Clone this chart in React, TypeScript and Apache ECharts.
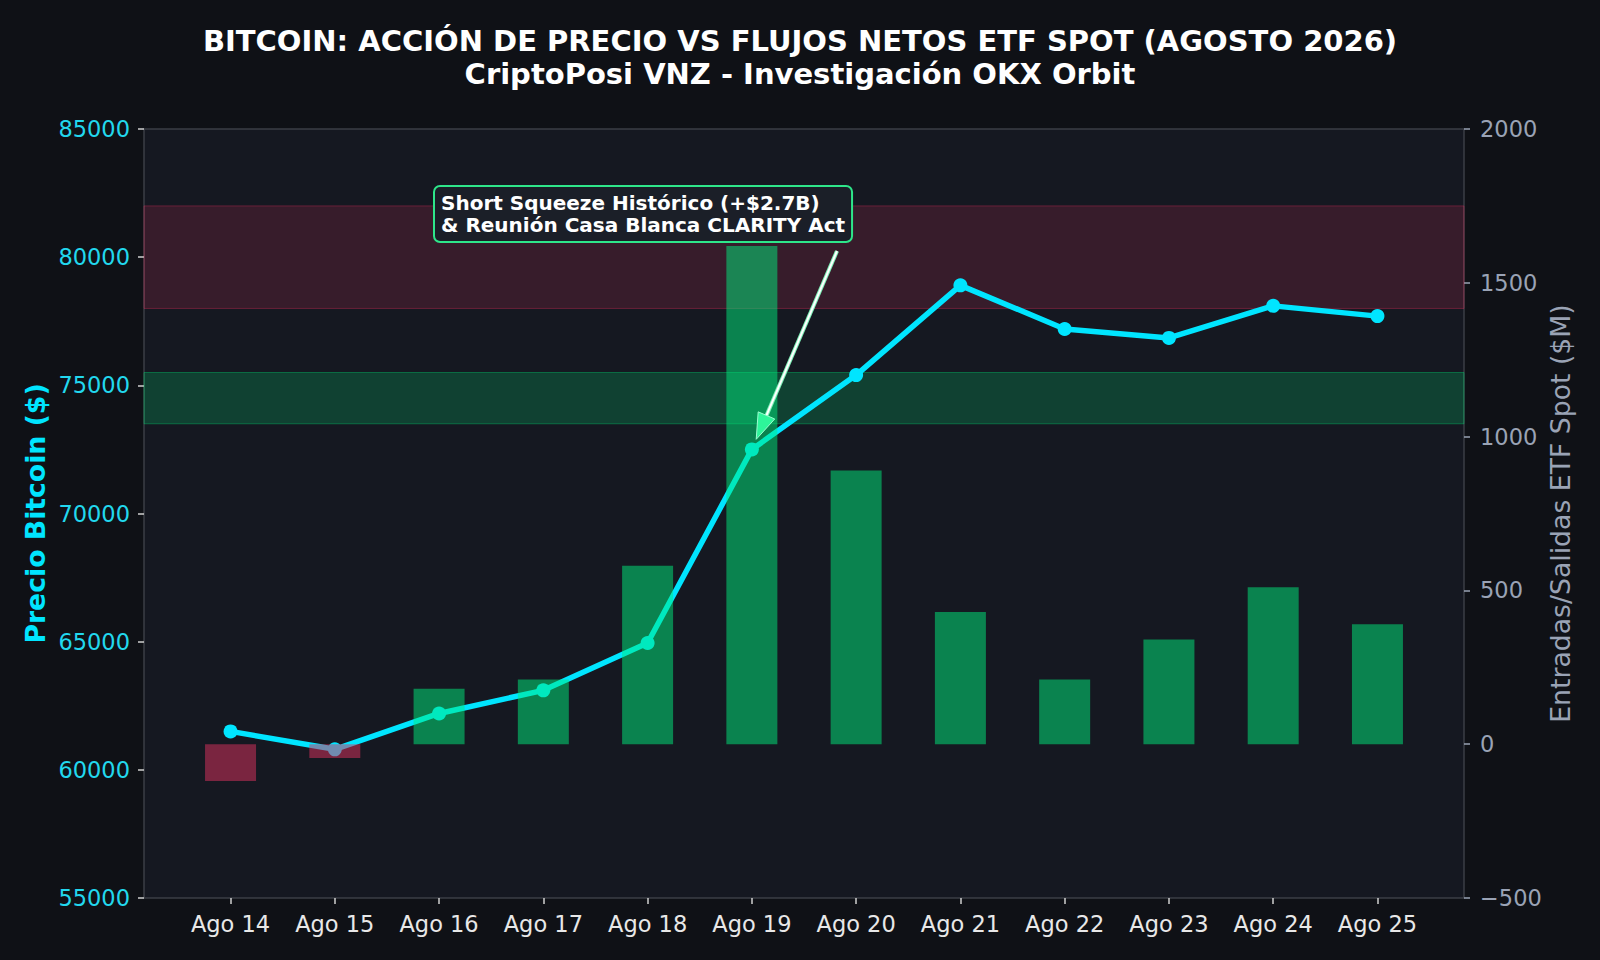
import React, { useEffect, useRef } from "react";
import * as echarts from "echarts";

const categories = ["Ago 14", "Ago 15", "Ago 16", "Ago 17", "Ago 18", "Ago 19", "Ago 20", "Ago 21", "Ago 22", "Ago 23", "Ago 24", "Ago 25"];
const priceValues = [61500, 60800, 62200, 63100, 64950, 72500, 75400, 78900, 77200, 76850, 78100, 77700];
const flowValues = [-120, -45, 180, 210, 580, 1620, 890, 430, 210, 340, 510, 390];
const resistanceBand = [78000, 82000];
const supportBand = [73500, 75500];
const priceTicks = [55000, 60000, 65000, 70000, 75000, 80000, 85000];
const flowTicks = [-500, 0, 500, 1000, 1500, 2000];
const annotationIndex = 5;
const titleText = "BITCOIN: ACCIÓN DE PRECIO VS FLUJOS NETOS ETF SPOT (AGOSTO 2026)\nCriptoPosi VNZ - Investigación OKX Orbit";
const annotationText = "Short Squeeze Histórico (+$2.7B)\n& Reunión Casa Blanca CLARITY Act";
const leftName = "Precio Bitcoin ($)";
const rightName = "Entradas/Salidas ETF Spot ($M)";

const FONT = "DejaVu Sans";

export default function App() {
  const ref = useRef<HTMLDivElement>(null);
  useEffect(() => {
    document.body.style.margin = "0";
    document.body.style.background = "#0f1116";
    const chart = echarts.init(ref.current!, null, { renderer: "svg" });
    const idx = categories.map((_, i) => i);
    const option: any = {
      animation: false,
      backgroundColor: "#0f1116",
      textStyle: { fontFamily: FONT },
      title: {
        text: titleText,
        left: "center",
        top: 19,
        textStyle: { color: "#ffffff", fontSize: 29, fontWeight: "bold", fontFamily: FONT, lineHeight: 33 },
      },
      grid: {
        left: 144,
        right: 136,
        top: 129,
        bottom: 62,
        show: true,
        backgroundColor: "#151821",
        borderColor: "#3b3e46",
        borderWidth: 1.5,
      },
      xAxis: {
        type: "value",
        min: -0.83,
        max: 11.83,
        splitLine: { show: false },
        axisLine: { show: false, onZero: false },
        axisTick: { show: true, customValues: idx, length: 6, lineStyle: { color: "#d0d0d0", width: 1.5 } },
        axisLabel: {
          customValues: idx,
          formatter: (v: number) => categories[Math.round(v)] ?? "",
          color: "#e8e8e8",
          fontSize: 22.5,
          fontFamily: FONT,
          margin: 14,
        },
      },
      yAxis: [
        {
          type: "value",
          min: priceTicks[0],
          max: priceTicks[priceTicks.length - 1],
          interval: 5000,
          name: leftName,
          nameLocation: "middle",
          nameGap: 95,
          nameMoveOverlap: false,
          nameTextStyle: { color: "#00e5ff", fontSize: 26.7, fontWeight: "bold", fontFamily: FONT },
          splitLine: { show: false },
          axisLine: { show: false, onZero: false },
          axisTick: { show: true, length: 6, lineStyle: { color: "#d0d0d0", width: 1.5 } },
          axisLabel: { color: "#22d8ee", fontSize: 22.5, fontFamily: FONT, margin: 14, formatter: (v: number) => String(v) },
        },
        {
          type: "value",
          min: flowTicks[0],
          max: flowTicks[flowTicks.length - 1],
          interval: 500,
          name: rightName,
          nameLocation: "middle",
          nameGap: 83,
          nameMoveOverlap: false,
          nameTextStyle: { color: "#9aa3b5", fontSize: 26.7, fontFamily: FONT },
          splitLine: { show: false },
          axisLine: { show: false, onZero: false },
          axisTick: { show: true, length: 6, lineStyle: { color: "#9aa3b5", width: 1.5 } },
          axisLabel: {
            color: "#9aa3b5",
            fontSize: 22.5,
            fontFamily: FONT,
            margin: 16,
            formatter: (v: number) => String(v).replace("-", "\u2212"),
          },
        },
      ],
      series: [
        {
          type: "line",
          yAxisIndex: 0,
          z: 3,
          data: priceValues.map((v, i) => [i, v]),
          symbol: "circle",
          symbolSize: 14,
          lineStyle: { color: "#00e5ff", width: 5.5 },
          itemStyle: { color: "#00e5ff", borderWidth: 0 },
          markArea: {
            silent: true,
            z: 1,
            data: [
              [
                { yAxis: resistanceBand[0], itemStyle: { color: "rgba(255,51,102,0.15)", borderColor: "rgba(255,51,102,0.3)", borderWidth: 1 } },
                { yAxis: resistanceBand[1] },
              ],
              [
                { yAxis: supportBand[0], itemStyle: { color: "rgba(0,230,118,0.2)", borderColor: "rgba(0,230,118,0.35)", borderWidth: 1 } },
                { yAxis: supportBand[1] },
              ],
            ],
          },
        },
        {
          type: "bar",
          yAxisIndex: 1,
          z: 5,
          barWidth: 51,
          data: flowValues.map((v, i) => ({
            value: [i, v],
            itemStyle: { color: v < 0 ? "rgba(223,50,95,0.5)" : "rgba(0,238,126,0.5)" },
          })),
        },
      ],
    };
    chart.setOption(option);

    const p = chart.convertToPixel({ xAxisIndex: 0, yAxisIndex: 0 }, [annotationIndex, priceValues[annotationIndex]]) as number[];
    const boxX = 435;
    const boxY = 187;
    const tail = [837, 251];
    const dx = p[0] - tail[0];
    const dy = p[1] - tail[1];
    const len = Math.sqrt(dx * dx + dy * dy);
    const ux = dx / len;
    const uy = dy / len;
    const tip = [p[0] - ux * 11, p[1] - uy * 11];
    const headLen = 26;
    const headW = 9;
    const base = [tip[0] - ux * headLen, tip[1] - uy * headLen];
    const nx = -uy;
    const ny = ux;
    chart.setOption({
      graphic: [
        {
          type: "line",
          z: 100,
          shape: { x1: tail[0], y1: tail[1], x2: base[0], y2: base[1] },
          style: { stroke: "#7ef0b8", lineWidth: 4 },
        },
        {
          type: "line",
          z: 101,
          shape: { x1: tail[0], y1: tail[1], x2: base[0], y2: base[1] },
          style: { stroke: "#ffffff", lineWidth: 2 },
        },
        {
          type: "polygon",
          z: 102,
          shape: {
            points: [
              [tip[0], tip[1]],
              [base[0] + nx * headW, base[1] + ny * headW],
              [base[0] - nx * headW, base[1] - ny * headW],
            ],
          },
          style: { fill: "#2ef59a", stroke: "#9affd0", lineWidth: 1 },
        },
        {
          type: "text",
          z: 110,
          x: boxX,
          y: boxY,
          style: {
            text: annotationText,
            fill: "#ffffff",
            font: `bold 20px "${FONT}"`,
            lineHeight: 22,
            align: "left",
            verticalAlign: "top",
            backgroundColor: "#1b1f28",
            borderColor: "#2ee68a",
            borderWidth: 2,
            borderRadius: 5,
            padding: [5, 6, 5, 6],
          },
        },
      ],
    });
    return () => chart.dispose();
  }, []);
  return <div ref={ref} style={{ width: 1600, height: 960 }} />;
}
